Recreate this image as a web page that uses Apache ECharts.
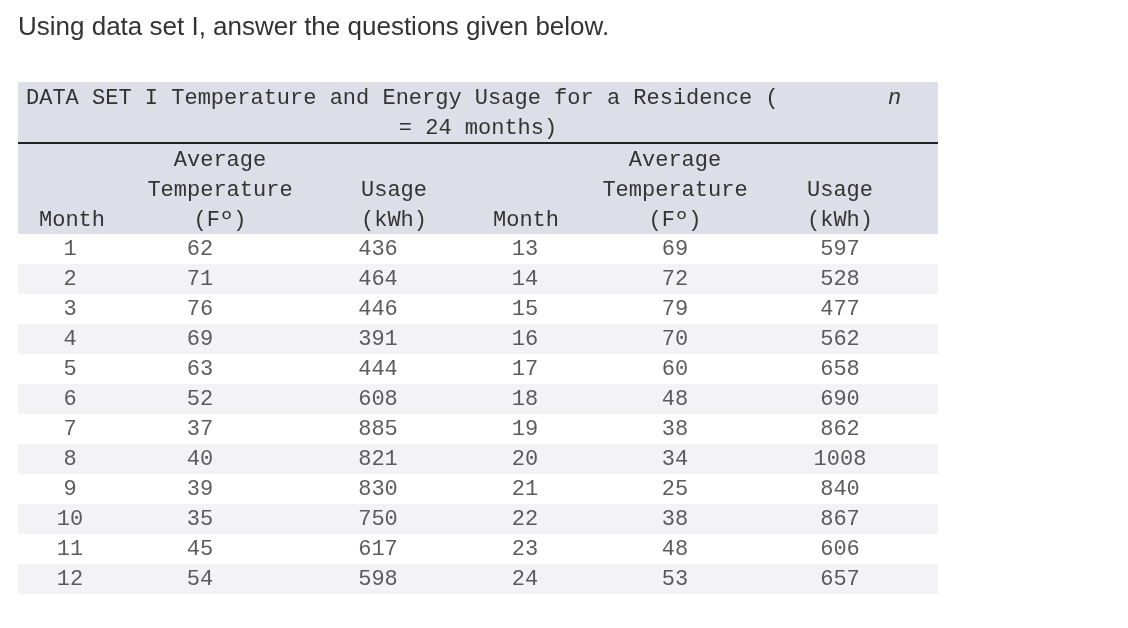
<!DOCTYPE html>
<html><head><meta charset="utf-8">
<script src="https://cdn.jsdelivr.net/npm/echarts@6/dist/echarts.min.js"></script>
<style>html,body{margin:0;padding:0;background:#fff}#c{width:1128px;height:628px}</style>
</head><body><div id="c"></div>
<script>
const months1 = [1,2,3,4,5,6,7,8,9,10,11,12];
const temp1 = [62,71,76,69,63,52,37,40,39,35,45,54];
const usage1 = [436,464,446,391,444,608,885,821,830,750,617,598];
const months2 = [13,14,15,16,17,18,19,20,21,22,23,24];
const temp2 = [69,72,79,70,60,48,38,34,25,38,48,53];
const usage2 = [597,528,477,562,658,690,862,1008,840,867,606,657];
const rows = months1.map(String);

const colX = [52, 182, 360, 507, 657, 822];
const cols = [months1, temp1, usage1, months2, temp2, usage2];
const mono = 'Liberation Mono, DejaVu Sans Mono, monospace';

const chart = echarts.init(document.getElementById('c'));
const series = [{
  type: 'bar', barWidth: '100%', silent: true,
  data: rows.map((r, i) => i % 2 === 1 ? 920 : 0),
  itemStyle: { color: '#f3f3f5' }, z: 1
}];
cols.forEach((arr, c) => {
  series.push({
    type: 'scatter', symbolSize: 0, silent: true, z: 5,
    data: arr.map((v, i) => ({ value: [colX[c], i], name: String(v) })),
    label: { show: true, position: 'inside', formatter: p => p.name,
      fontFamily: mono, fontSize: 22, color: '#333' }
  });
});
const hdrText = (x, y, t, align) => ({ type: 'text', left: undefined, x, y,
  style: { text: t, fontFamily: mono, fontSize: 22, fill: '#333', align: align || 'center', verticalAlign: 'middle' } });
chart.setOption({
  animation: false,
  grid: { left: 18, right: 190, top: 234, height: 360 },
  xAxis: { type: 'value', min: 0, max: 920, show: false },
  yAxis: { type: 'category', data: rows, inverse: true, show: false },
  series,
  graphic: [
    { type: 'text', x: 18, y: 28, style: { text: 'Using data set I, answer the questions given below.', fontFamily: 'Helvetica, Arial, Liberation Sans, sans-serif', fontSize: 26, fill: '#333', verticalAlign: 'middle' } },
    { type: 'rect', shape: { x: 18, y: 82, width: 920, height: 152 }, style: { fill: '#dcdfe7' }, z: -1 },
    { type: 'rect', shape: { x: 18, y: 142, width: 920, height: 2 }, style: { fill: '#222' } },
    hdrText(26, 98, 'DATA SET I Temperature and Energy Usage for a Residence (', 'left'),
    { type: 'text', x: 888, y: 98, style: { text: 'n', fontFamily: mono, fontStyle: 'italic', fontSize: 22, fill: '#333', verticalAlign: 'middle' } },
    hdrText(478, 128, '= 24 months)'),
    hdrText(220, 160, 'Average'), hdrText(220, 190, 'Temperature'), hdrText(220, 220, '(F\u00BA)'),
    hdrText(394, 190, 'Usage'), hdrText(394, 220, '(kWh)'),
    hdrText(72, 220, 'Month'), hdrText(526, 220, 'Month'),
    hdrText(675, 160, 'Average'), hdrText(675, 190, 'Temperature'), hdrText(675, 220, '(F\u00BA)'),
    hdrText(840, 190, 'Usage'), hdrText(840, 220, '(kWh)')
  ]
});
</script></body></html>
